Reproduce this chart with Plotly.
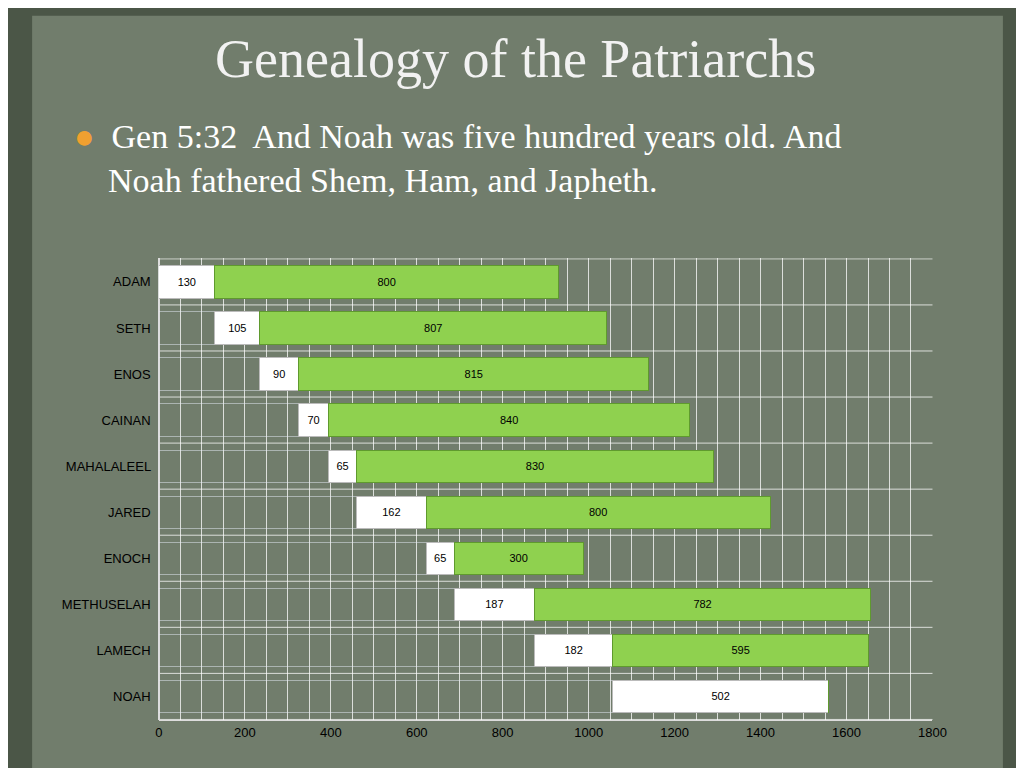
import plotly.graph_objects as go

names = ["ADAM","SETH","ENOS","CAINAN","MAHALALEEL","JARED","ENOCH","METHUSELAH","LAMECH","NOAH"]
start = [0,130,235,325,395,460,622,687,874,1056]
before = [130,105,90,70,65,162,65,187,182,502]
after = [800,807,815,840,830,800,300,782,595,None]

fig = go.Figure()
fig.add_bar(y=names, x=start, orientation="h", marker=dict(color="rgba(0,0,0,0)"), hoverinfo="skip", showlegend=False)
fig.add_bar(y=names, x=before, orientation="h", marker=dict(color="white", line=dict(color="#bbbbbb", width=1)),
            text=[str(v) for v in before], textposition="inside", insidetextanchor="middle",
            textfont=dict(color="black", size=11, family="Liberation Sans"), showlegend=False)
fig.add_bar(y=names, x=[a if a is not None else 0 for a in after], orientation="h",
            marker=dict(color="#8fd14f", line=dict(color="#5f9a2e", width=1)),
            text=[str(a) if a is not None else "" for a in after], textposition="inside", insidetextanchor="middle",
            textfont=dict(color="black", size=11, family="Liberation Sans"), showlegend=False)

fig.update_layout(
    width=1024, height=768, barmode="stack", bargap=0.3,
    margin=dict(l=0, r=0, t=0, b=0),
    paper_bgcolor="#4b5647", plot_bgcolor="rgba(0,0,0,0)",
    font=dict(family="Liberation Sans", color="black"),
    xaxis=dict(domain=[0.146, 0.915], range=[0, 1800], dtick=200, showgrid=True,
               gridcolor="rgba(255,255,255,0.75)", minor=dict(dtick=50, showgrid=True, gridcolor="rgba(255,255,255,0.75)"),
               tickfont=dict(size=13, color="black"), zeroline=True, zerolinecolor="#ddd", showline=True, linecolor="#ddd"),
    yaxis=dict(domain=[0.073, 0.674], autorange="reversed", showgrid=False,
               tickfont=dict(size=13, color="black"), ticksuffix="  "),
    shapes=[dict(type="rect", xref="paper", yref="paper", x0=0.02, x1=0.985, y0=0.01, y1=0.99,
                 fillcolor="#717d6c", line=dict(width=0), layer="below")]
    + [dict(type="line", xref="paper", yref="y", x0=0.146, x1=0.915, y0=i+0.5, y1=i+0.5,
            line=dict(color="rgba(255,255,255,0.75)", width=1), layer="below") for i in range(-1, 10)],
    annotations=[
        dict(text="Genealogy of the Patriarchs", x=0.5, y=0.975, xref="paper", yref="paper", showarrow=False,
             yanchor="top", font=dict(family="Liberation Serif", size=54, color="#f2f2f2")),
        dict(text="<span style='color:#f0a030'>●</span>  Gen 5:32  And Noah was five hundred years old. And<br>    Noah fathered Shem, Ham, and Japheth.",
             x=0.06, y=0.86, xref="paper", yref="paper", showarrow=False, xanchor="left", yanchor="top", align="left",
             font=dict(family="Liberation Serif", size=34, color="white")),
    ],
)
fig.write_html("out.html")
